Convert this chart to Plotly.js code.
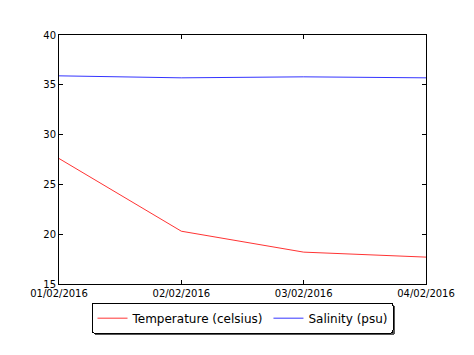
<!DOCTYPE html>
<html><head><meta charset="utf-8">
<script src="https://cdn.plot.ly/plotly-3.0.1.min.js"></script>
<style>html,body{margin:0;padding:0;background:#fff}#c{width:474px;height:355px}</style>
</head><body><div id="c"></div>
<script>
var dates = ["01/02/2016", "02/02/2016", "03/02/2016", "04/02/2016"];
var temperature = [27.6, 20.3, 18.2, 17.7];
var salinity = [35.9, 35.7, 35.8, 35.7];
var yTicks = [15, 20, 25, 30, 35, 40];

var traces = [
  {x: dates, y: temperature, type: "scatter", mode: "lines", name: "Temperature (celsius)",
   line: {color: "#ff0000", width: 1}, opacity: 0.8},
  {x: dates, y: salinity, type: "scatter", mode: "lines", name: "Salinity (psu)",
   line: {color: "#0000ff", width: 1}, opacity: 0.8}
];
var layout = {
  width: 474, height: 355,
  margin: {l: 59, r: 48, t: 35, b: 71},
  paper_bgcolor: "#fff", plot_bgcolor: "#fff",
  font: {family: "DejaVu Sans", size: 10, color: "#000"},
  showlegend: true,
  legend: {orientation: "h", x: 0.5, xanchor: "center", y: -0.075, yanchor: "top",
    bordercolor: "#000", borderwidth: 1, font: {size: 12, family: "DejaVu Sans"},
    bgcolor: "#fff", itemwidth: 30},
  xaxis: {type: "category", range: [0, 3], showgrid: false, zeroline: false,
    showline: true, linecolor: "#000", linewidth: 1, mirror: "ticks",
    ticks: "inside", ticklen: 4, tickcolor: "#000", tickfont: {size: 10}},
  yaxis: {range: [15, 40], tickvals: yTicks, showgrid: false, zeroline: false,
    showline: true, linecolor: "#000", linewidth: 1, mirror: "ticks",
    ticks: "inside", ticklen: 4, tickcolor: "#000", tickfont: {size: 10}}
};
Plotly.newPlot("c", traces, layout, {displayModeBar: false, staticPlot: true}).then(function(gd){
  var bg = gd.querySelector(".legend rect.bg");
  if (!bg) return;
  bg.setAttribute("rx", 3); bg.setAttribute("ry", 3);
  var sh = bg.cloneNodeInternal ? null : bg.cloneNode(false);
  sh.setAttribute("class", "legend-shadow");
  sh.style.fill = "#555"; sh.style.stroke = "none"; sh.style.strokeWidth = "0";
  var t = bg.getAttribute("transform") || "";
  sh.setAttribute("transform", t + " translate(2,2)");
  bg.parentNode.insertBefore(sh, bg);
});
</script></body></html>
